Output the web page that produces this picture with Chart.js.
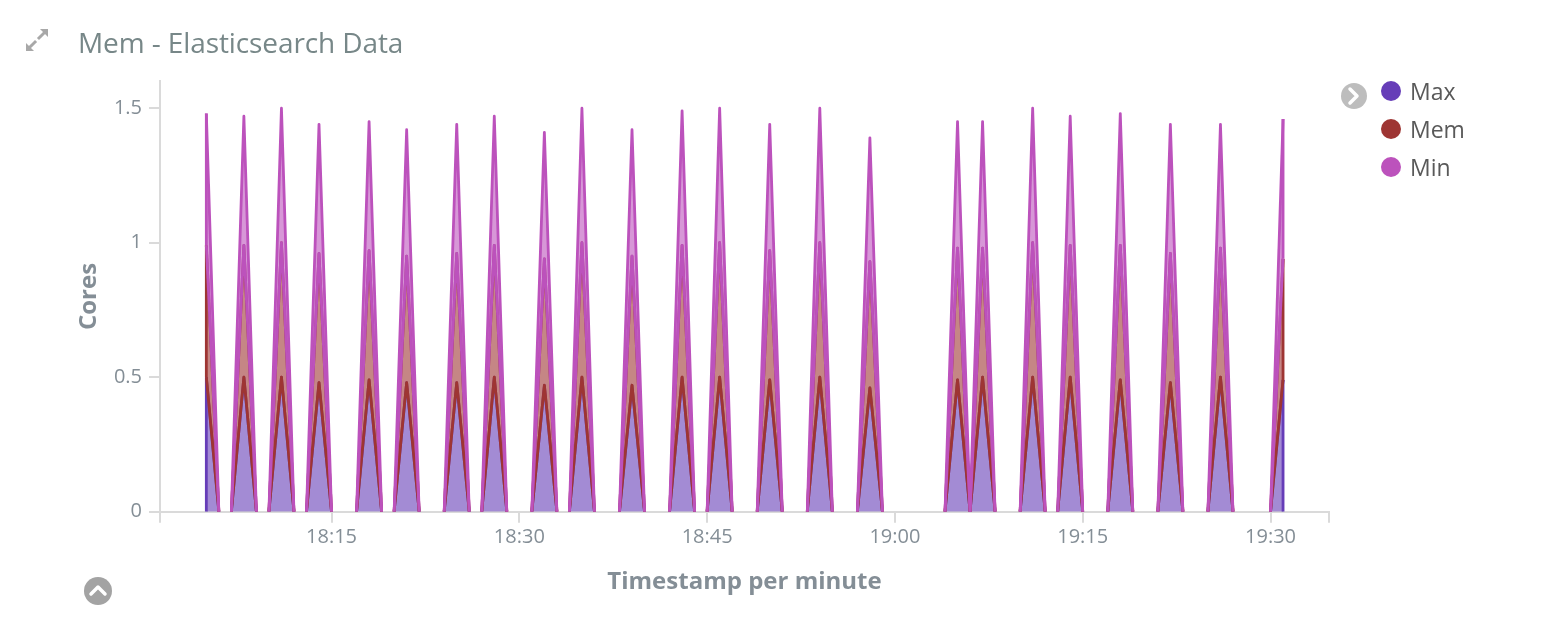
<!DOCTYPE html>
<html>
<head>
<meta charset="utf-8">
<script src="https://cdn.jsdelivr.net/npm/chart.js@4.4.1/dist/chart.umd.min.js"></script>
<style>
  html, body { margin: 0; padding: 0; background: #ffffff; }
  body { width: 1562px; height: 618px; position: relative; overflow: hidden; font-family: "Open Sans", "Noto Sans", sans-serif; }
  #wrap { position: absolute; left: 0; top: 0; width: 1562px; height: 618px; }
  #title { position: absolute; left: 78px; top: 22px; font-size: 28px; color: #778788; white-space: nowrap; line-height: 40px; letter-spacing: -0.1px; }
  #legend { position: absolute; left: 1381px; top: 73px; }
  .item { position: relative; height: 38px; line-height: 36px; font-size: 23px; color: #595959; padding-left: 29px; white-space: nowrap; }
  .dot { position: absolute; left: 0; top: 8px; width: 20px; height: 20px; border-radius: 50%; }
</style>
</head>
<body>
<div id="wrap"><canvas id="c" width="1562" height="618"></canvas></div>
<svg style="position:absolute;left:0;top:0" width="1562" height="618">
  <g stroke="#a8a8a8" stroke-width="3" fill="#a8a8a8" stroke-linecap="square">
    <line x1="30" y1="47" x2="35" y2="42"/>
    <polygon points="26,51 26,43 34,51" stroke="none"/>
    <line x1="39" y1="38" x2="44" y2="33"/>
    <polygon points="48,29 40,29 48,37" stroke="none"/>
  </g>
  <circle cx="1354" cy="96" r="13" fill="#bdbdbd"/>
  <polyline points="1350,89 1357,96 1350,103" fill="none" stroke="#ffffff" stroke-width="3.5" stroke-linecap="round" stroke-linejoin="round"/>
  <circle cx="98" cy="591" r="14" fill="#a3a3a3"/>
  <polyline points="91,594 98,587 105,594" fill="none" stroke="#ffffff" stroke-width="3.5" stroke-linecap="round" stroke-linejoin="round"/>
</svg>
<div id="title">Mem - Elasticsearch Data</div>
<div id="legend"></div>
<script>
// ---- data (per-minute buckets with a value) ----
const spikeTimes = ['18:05','18:08','18:11','18:14','18:18','18:21','18:25','18:28','18:32','18:35','18:39','18:43',
                    '18:46','18:50','18:54','18:58','19:05','19:07','19:11','19:14','19:18','19:22','19:26','19:31'];
const maxValues = [0.50,0.50,0.50,0.48,0.49,0.48,0.48,0.50,0.47,0.50,0.47,0.50,
                   0.50,0.49,0.50,0.46,0.49,0.50,0.50,0.50,0.49,0.48,0.50,0.49];
const memValues = [0.49,0.49,0.50,0.48,0.48,0.47,0.48,0.49,0.47,0.50,0.48,0.49,
                   0.50,0.48,0.50,0.47,0.49,0.48,0.50,0.49,0.50,0.48,0.48,0.45];
const minValues = [0.49,0.48,0.50,0.48,0.48,0.47,0.48,0.48,0.47,0.50,0.47,0.50,
                   0.50,0.47,0.50,0.46,0.47,0.47,0.50,0.48,0.49,0.48,0.46,0.52];
const xTickLabels = ['18:15','18:30','18:45','19:00','19:15','19:30'];
const yTickValues = [0, 0.5, 1, 1.5];
const seriesNames = ['Max', 'Mem', 'Min'];
const seriesColors = ['#663db8', '#9e3533', '#bc52bc'];
const seriesFills = ['rgba(102,61,184,0.6)', 'rgba(158,53,51,0.6)', 'rgba(188,82,188,0.6)'];

// ---- helpers ----
const BASE_HOUR = 18;
function toMinutes(t) { const [h, m] = t.split(':').map(Number); return (h - BASE_HOUR) * 60 + m; }
const X_MIN = 1.30, X_MAX = 94.67;
// date histogram: empty minute buckets between first and last bucket are 0
const spikeMin = spikeTimes.map(toMinutes);
const firstMin = spikeMin[0], lastMin = spikeMin[spikeMin.length - 1];
function bucketSeries(vals) {
  const out = [];
  for (let m = firstMin; m <= lastMin; m++) {
    const i = spikeMin.indexOf(m);
    out.push({ x: m, y: i >= 0 ? vals[i] : 0 });
  }
  return out;
}
const maxS = bucketSeries(maxValues);
const memS = bucketSeries(memValues);
const minS = bucketSeries(minValues);
// stacked tops (Kibana stacked area)
const stack0 = maxS.map(p => ({ x: p.x, y: 0 }));
const stack1 = maxS.map(p => ({ x: p.x, y: p.y }));
const stack2 = maxS.map((p, i) => ({ x: p.x, y: +(p.y + memS[i].y).toFixed(4) }));
const stack3 = maxS.map((p, i) => ({ x: p.x, y: +(p.y + memS[i].y + minS[i].y).toFixed(4) }));
// closing edges of each area path at the first and last bucket
function edge(lo, hi, idx) { return [{ x: lo[idx].x, y: lo[idx].y }, { x: hi[idx].x, y: hi[idx].y }]; }
const L = stack1.length - 1;

const hideFlat = { borderColor: ctx => (ctx.p0.parsed.y === 0 && ctx.p1.parsed.y === 0) ? 'rgba(0,0,0,0)' : undefined };
const common = { pointRadius: 0, pointHoverRadius: 0, tension: 0, borderWidth: 2.8, segment: hideFlat, borderJoinStyle: 'round' };
const edgeCommon = { pointRadius: 0, pointHoverRadius: 0, tension: 0, borderWidth: 2.8, fill: false };

// legend (HTML, like Kibana's legend)
const lg = document.getElementById('legend');
seriesNames.forEach((n, i) => {
  const d = document.createElement('div'); d.className = 'item';
  d.innerHTML = '<span class="dot" style="background:' + seriesColors[i] + '"></span>' + n;
  lg.appendChild(d);
});

const AXIS_GREY = '#dadada';
const LABEL_GREY = '#848e96';

new Chart(document.getElementById('c'), {
  type: 'line',
  data: {
    datasets: [
      Object.assign({ label: seriesNames[0], data: stack1, borderColor: seriesColors[0], backgroundColor: seriesFills[0], fill: 'origin', order: 9 }, common),
      Object.assign({ label: seriesNames[1], data: stack2, borderColor: seriesColors[1], backgroundColor: seriesFills[1], fill: '-1', order: 6 }, common),
      Object.assign({ label: seriesNames[2], data: stack3, borderColor: seriesColors[2], backgroundColor: seriesFills[2], fill: '-1', order: 3 }, common),
      Object.assign({ label: 'memBase', data: stack1, borderColor: seriesColors[1], fill: false, order: 5 }, common),
      Object.assign({ label: 'minBase', data: stack2, borderColor: seriesColors[2], fill: false, order: 2 }, common),
      Object.assign({ label: 'maxEdgeL', data: edge(stack0, stack1, 0), borderColor: seriesColors[0], order: 8 }, edgeCommon),
      Object.assign({ label: 'maxEdgeR', data: edge(stack0, stack1, L), borderColor: seriesColors[0], order: 8 }, edgeCommon),
      Object.assign({ label: 'memEdgeL', data: edge(stack1, stack2, 0), borderColor: seriesColors[1], order: 4 }, edgeCommon),
      Object.assign({ label: 'memEdgeR', data: edge(stack1, stack2, L), borderColor: seriesColors[1], order: 4 }, edgeCommon),
      Object.assign({ label: 'minEdgeL', data: edge(stack2, stack3, 0), borderColor: seriesColors[2], order: 1 }, edgeCommon),
      Object.assign({ label: 'minEdgeR', data: edge(stack2, stack3, L), borderColor: seriesColors[2], order: 1 }, edgeCommon)
    ]
  },
  options: {
    responsive: false,
    animation: false,
    events: [],
    layout: { padding: { left: 0, right: 233, top: 81.3, bottom: 0 } },
    plugins: { legend: { display: false }, title: { display: false }, tooltip: { enabled: false } },
    scales: {
      x: {
        type: 'linear',
        min: X_MIN,
        max: X_MAX,
        z: 1,
        border: { display: true, color: AXIS_GREY, width: 2 },
        grid: { drawOnChartArea: false, drawTicks: true, tickLength: 11, color: AXIS_GREY, lineWidth: 2 },
        afterBuildTicks: s => {
          s.ticks = [{ value: X_MIN }].concat(xTickLabels.map(t => ({ value: toMinutes(t) })), [{ value: X_MAX }]);
        },
        ticks: {
          autoSkip: false,
          maxRotation: 0,
          padding: 3,
          color: LABEL_GREY,
          font: { family: '"Open Sans", sans-serif', size: 20 },
          callback: (v, i) => (i === 0 || i === xTickLabels.length + 1) ? '' : xTickLabels[i - 1]
        },
        title: {
          display: true,
          text: 'Timestamp per minute',
          color: LABEL_GREY,
          font: { family: '"Open Sans", sans-serif', size: 24, weight: 'bold' },
          padding: { top: 0, bottom: 21.6 }
        },
        afterFit: s => { s.height = 618 - 511.7; }
      },
      y: {
        type: 'linear',
        min: 0,
        max: 1.6,
        border: { display: true, color: AXIS_GREY, width: 2 },
        grid: { drawOnChartArea: false, drawTicks: true, tickLength: 11, color: AXIS_GREY, lineWidth: 2 },
        afterBuildTicks: s => { s.ticks = yTickValues.map(v => ({ value: v })); },
        ticks: {
          padding: 7,
          color: LABEL_GREY,
          font: { family: '"Open Sans", sans-serif', size: 20 },
          callback: v => String(v)
        },
        title: {
          display: true,
          text: 'Cores',
          color: LABEL_GREY,
          font: { family: '"Open Sans", sans-serif', size: 24, weight: 'bold' },
          padding: { top: 74.6, bottom: 0 }
        },
        afterFit: s => { s.width = 160; }
      }
    }
  }
});
</script>
</body>
</html>
